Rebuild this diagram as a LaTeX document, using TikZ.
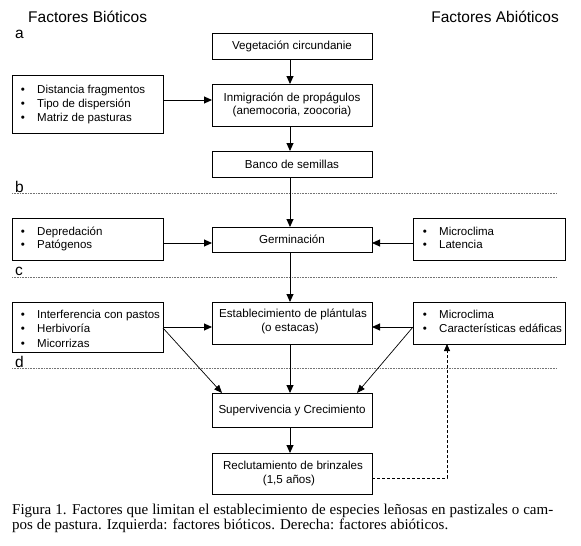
\documentclass[tikz,border=0pt]{standalone}
\usepackage{fontspec}
\setmainfont{Liberation Serif}
\newfontfamily\hv{Liberation Sans}
\usetikzlibrary{arrows.meta}
\begin{document}
\begin{tikzpicture}[x=1pt,y=-1pt,
  box/.style={draw,line width=0.9pt,minimum width=160pt,inner sep=0pt,outer sep=0pt,font=\hv\fontsize{11.6}{14}\selectfont},
  sidebox/.style={draw,line width=0.9pt,minimum width=151pt,inner sep=0pt,outer sep=0pt},
  txt/.style={font=\hv\fontsize{11.6}{14}\selectfont,inner sep=0pt,anchor=base},
  itm/.style={font=\hv\fontsize{11.5}{14}\selectfont,inner sep=0pt,anchor=base west},
  bul/.style={font=\hv\fontsize{11.6}{14}\selectfont,inner sep=0pt,anchor=base},
  head/.style={font=\hv\fontsize{15.5}{18}\selectfont,inner sep=0pt},
  sep/.style={draw=black!55,line width=0.6pt,dash pattern=on 0.8pt off 0.8pt},
  arr/.style={line width=0.9pt,-{Triangle[length=8pt,width=7pt]}},
  darr/.style={line width=0.7pt,-{Triangle[length=8pt,width=6.5pt]}},
  dsh/.style={line width=0.8pt,dash pattern=on 3pt off 2pt,-{Triangle[length=7pt,width=6pt]}},
  captxt/.style={font=\fontsize{15}{16}\selectfont,inner sep=0pt,anchor=base west}
]
\useasboundingbox (0,0) rectangle (581,546);
% headings and labels
\node[head,anchor=base west] (hb) at (28,22) {Factores Bióticos};
\node[head,anchor=base east] (ha) at (559,22) {Factores Abióticos};
\node[head,anchor=base west] (la) at (15,38) {a};
\node[head,anchor=base west] (lb) at (15,192) {b};
\node[head,anchor=base west] (lc) at (15,275) {c};
\node[head,anchor=base west] (ld) at (15,367) {d};
% separators
\coordinate (sbL) at (12,193); \coordinate (sbR) at (557,193);
\coordinate (scL) at (12,277); \coordinate (scR) at (557,277);
\coordinate (sdL) at (12,368); \coordinate (sdR) at (557,368);
\draw[sep] (sbL) -- (sbR);
\draw[sep] (scL) -- (scR);
\draw[sep] (sdL) -- (sdR);
% main boxes
\node[box,minimum height=26pt] (veg) at (292,46) {Vegetación circundanie};
\node[box,minimum height=42pt] (inm) at (292,105) {};
\node[txt] (inm1) at (292,101) {Inmigración de propágulos};
\node[txt] (inm2) at (292,114.5) {(anemocoria, zoocoria)};
\node[box,minimum height=26pt] (ban) at (292,164) {Banco de semillas};
\node[box,minimum height=25pt] (ger) at (292,239.5) {Germinación};
\node[box,minimum height=42pt] (est) at (292,323) {};
\node[txt] (est1) at (293,317.5) {Establecimiento de plántulas};
\node[txt] (est2) at (290,331.5) {(o estacas)};
\node[box,minimum height=34pt] (sup) at (292,410) {Supervivencia y Crecimiento};
\node[box,minimum height=41pt] (rec) at (292,473.5) {};
\node[txt] (rec1) at (293,469.5) {Reclutamiento de brinzales};
\node[txt] (rec2) at (289,483) {(1,5 años)};
% side boxes
\node[sidebox,minimum height=58pt] (L1) at (87.5,104) {};
\node[sidebox,minimum height=42pt] (L2) at (87.5,239) {};
\node[sidebox,minimum height=50pt] (L3) at (87.5,327) {};
\node[sidebox,minimum height=42pt,minimum width=152pt] (R2) at (489,239) {};
\node[sidebox,minimum height=42pt,minimum width=152pt] (R3) at (489,323) {};
% bullet texts
\foreach \y/\t [count=\i] in {93.5/Distancia fragmentos,107.3/Tipo de dispersión,121/Matriz de pasturas}{
  \node[bul] (bL1\i) at (23,\y) {\textbullet};
  \node[itm] (tL1\i) at (37,\y) {\t};
}
\foreach \y/\t [count=\i] in {235.5/Depredación,248.5/Patógenos}{
  \node[bul] (bL2\i) at (23,\y) {\textbullet};
  \node[itm] (tL2\i) at (37,\y) {\t};
}
\foreach \y/\t [count=\i] in {318.5/Interferencia con pastos,332.5/Herbivoría,347/Micorrizas}{
  \node[bul] (bL3\i) at (23,\y) {\textbullet};
  \node[itm] (tL3\i) at (37,\y) {\t};
}
\foreach \y/\t [count=\i] in {235.5/Microclima,248.5/Latencia}{
  \node[bul] (bR2\i) at (425,\y) {\textbullet};
  \node[itm] (tR2\i) at (439,\y) {\t};
}
\foreach \y/\t [count=\i] in {318.5/Microclima,332.5/Características edáficas}{
  \node[bul] (bR3\i) at (425,\y) {\textbullet};
  \node[itm] (tR3\i) at (439,\y) {\t};
}
% vertical flow
\coordinate (ax) at (290,0);
\draw[arr] (veg.south -| ax) -- (inm.north -| ax);
\draw[arr] (inm.south -| ax) -- (ban.north -| ax);
\draw[arr] (ban.south -| ax) -- (ger.north -| ax);
\draw[arr] (ger.south -| ax) -- (est.north -| ax);
\draw[arr] (est.south -| ax) -- (sup.north -| ax);
\draw[arr] (sup.south -| ax) -- (rec.north -| ax);
% horizontal inputs
\draw[arr] (L1.east |- 0,100) -- (inm.west |- 0,100);
\draw[arr] (L2.east |- 0,243) -- (ger.west |- 0,243);
\draw[arr] (R2.west |- 0,243) -- (ger.east |- 0,243);
\draw[arr] (L3.east |- 0,327) -- (est.west |- 0,327);
\draw[arr] (R3.west |- 0,327) -- (est.east |- 0,327);
% diagonals
\coordinate (supL) at (222,393);
\coordinate (supR) at (357,393);
\draw[darr] (L3.east |- 0,328) -- (supL);
\draw[darr] (R3.west |- 0,327) -- (supR);
% dashed feedback
\coordinate (fb) at (447,478);
\draw[dsh] (rec.east |- fb) -- (fb) -- (R3.south -| fb);
% caption
\node[captxt] (cap1) at (12,514) {\makebox[541pt][s]{Figura 1. Factores que limitan el establecimiento de especies leñosas en pastizales o cam-}};
\node[captxt] (cap2) at (12,529) {pos de pastura. Izquierda: factores bióticos. Derecha: factores abióticos.};
\end{tikzpicture}
\end{document}
